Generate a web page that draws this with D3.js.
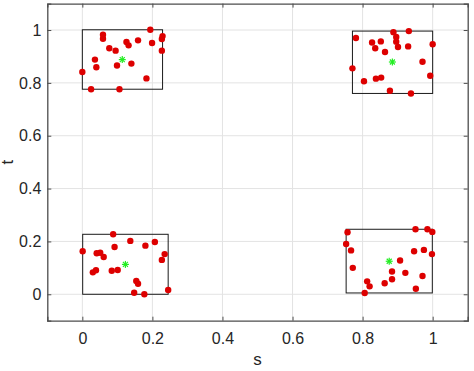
<!DOCTYPE html>
<html>
<head>
<meta charset="utf-8">
<script src="https://cdn.jsdelivr.net/npm/d3@7"></script>
<style>
  body { margin: 0; background: #fff; }
  text { font-family: "Liberation Sans", Arial, sans-serif; fill: #262626; }
</style>
</head>
<body>
<svg id="chart" width="474" height="371"></svg>
<script>
// four clusters of points
const cluster1 = [
  [0.194, 1.001], [0.059, 0.982], [0.059, 0.967], [0.229, 0.977], [0.227, 0.966],
  [0.126, 0.955], [0.132, 0.942], [0.159, 0.961], [0.199, 0.951], [0.077, 0.931],
  [0.095, 0.922], [0.227, 0.922], [0.036, 0.888], [0.040, 0.859], [0.099, 0.866],
  [0.140, 0.873], [0.000, 0.841], [0.183, 0.817], [0.025, 0.776], [0.106, 0.776]
];
const cluster2 = [
  [0.888, 0.992], [0.932, 0.996], [0.781, 0.970], [0.827, 0.953], [0.852, 0.957],
  [0.896, 0.974], [0.896, 0.956], [0.901, 0.936], [0.930, 0.938], [0.836, 0.931],
  [0.864, 0.917], [1.000, 0.946], [0.971, 0.880], [0.771, 0.855], [0.993, 0.827],
  [0.804, 0.806], [0.838, 0.816], [0.853, 0.820], [0.878, 0.770], [0.938, 0.760]
];
const cluster3 = [
  [0.088, 0.227], [0.001, 0.163], [0.137, 0.202], [0.180, 0.184], [0.207, 0.198],
  [0.041, 0.155], [0.051, 0.157], [0.061, 0.141], [0.092, 0.179], [0.235, 0.152],
  [0.227, 0.130], [0.030, 0.083], [0.039, 0.091], [0.084, 0.089], [0.101, 0.092],
  [0.154, 0.050], [0.159, 0.040], [0.148, 0.006], [0.177, 0.000], [0.245, 0.016]
];
const cluster4 = [
  [0.757, 0.235], [0.951, 0.246], [0.985, 0.246], [0.999, 0.236], [0.753, 0.190],
  [0.767, 0.166], [0.947, 0.163], [0.975, 0.168], [0.998, 0.152], [0.907, 0.128],
  [0.772, 0.100], [0.884, 0.086], [0.922, 0.081], [0.971, 0.069], [0.884, 0.057],
  [0.813, 0.049], [0.863, 0.042], [0.820, 0.030], [0.952, 0.021], [0.806, 0.005]
];
const centers = [[0.114, 0.888], [0.885, 0.879], [0.123, 0.113], [0.876, 0.125]];

const xTicks = [0, 0.2, 0.4, 0.6, 0.8, 1];
const yTicks = [0, 0.2, 0.4, 0.6, 0.8, 1];

const svg = d3.select("svg");
const width = parseInt(svg.attr("width"));
const height = parseInt(svg.attr("height"));
const margin = {top: 3.6, right: 6.3, bottom: 50.3, left: 47.3};

const x = d3.scaleLinear().domain([-0.1, 1.1]).range([margin.left, width - margin.right]);
const y = d3.scaleLinear().domain([-0.1, 1.1]).range([height - margin.bottom, margin.top]);

// grid
svg.append("g").selectAll("line.gx")
  .data(xTicks).enter().append("line")
  .attr("x1", d => x(d)).attr("x2", d => x(d))
  .attr("y1", y(1.1)).attr("y2", y(-0.1))
  .attr("stroke", "#e3e3e3").attr("stroke-width", 1);
svg.append("g").selectAll("line.gy")
  .data(yTicks).enter().append("line")
  .attr("y1", d => y(d)).attr("y2", d => y(d))
  .attr("x1", x(-0.1)).attr("x2", x(1.1))
  .attr("stroke", "#e3e3e3").attr("stroke-width", 1);

// axes, ticks inward on all sides
const axisColor = "#4d4d4d";
const axBottom = svg.append("g").attr("transform", `translate(0,${y(-0.1)})`)
  .call(d3.axisBottom(x).tickValues(xTicks).tickSize(-4).tickPadding(12).tickFormat(d3.format("")));
const axTop = svg.append("g").attr("transform", `translate(0,${y(1.1)})`)
  .call(d3.axisTop(x).tickValues(xTicks).tickSize(-4).tickFormat(""));
const axLeft = svg.append("g").attr("transform", `translate(${x(-0.1)},0)`)
  .call(d3.axisLeft(y).tickValues(yTicks).tickSize(-4).tickPadding(6).tickFormat(d3.format("")));
const axRight = svg.append("g").attr("transform", `translate(${x(1.1)},0)`)
  .call(d3.axisRight(y).tickValues(yTicks).tickSize(-4).tickFormat(""));

[axBottom, axTop, axLeft, axRight].forEach(g => {
  g.selectAll("path.domain").attr("stroke", axisColor).attr("stroke-width", 1.3);
  g.selectAll(".tick line").attr("stroke", axisColor);
  g.selectAll(".tick text").style("font-size", "16px").style("font-family", "'Liberation Sans', Arial, sans-serif").attr("fill", "#262626");
});

// axis labels
svg.append("text")
  .attr("x", x(0.5)).attr("y", 365)
  .attr("text-anchor", "middle")
  .style("font-size", "17px")
  .text("s");
svg.append("text")
  .attr("transform", `translate(13,${y(0.5)}) rotate(-90)`)
  .attr("text-anchor", "middle")
  .style("font-size", "17px")
  .text("t");

// clusters: bounding box, points, centre
const clusters = [cluster1, cluster2, cluster3, cluster4];
const plot = svg.append("g");

clusters.forEach(function (pts, i) {
  const ex = d3.extent(pts, d => d[0]);
  const ey = d3.extent(pts, d => d[1]);
  plot.append("rect")
    .attr("x", x(ex[0])).attr("y", y(ey[1]))
    .attr("width", x(ex[1]) - x(ex[0]))
    .attr("height", y(ey[0]) - y(ey[1]))
    .attr("fill", "none")
    .attr("stroke", "#1a1a1a")
    .attr("stroke-width", 1);

  plot.selectAll("circle.c" + i)
    .data(pts).enter()
    .append("circle")
    .attr("class", "c" + i)
    .attr("cx", d => x(d[0]))
    .attr("cy", d => y(d[1]))
    .attr("r", 3.2)
    .attr("fill", "#dd0000");
});

// green asterisks
const star = plot.selectAll("g.star")
  .data(centers).enter()
  .append("g")
  .attr("transform", d => `translate(${x(d[0])},${y(d[1])})`);
[0, 45, 90, 135].forEach(a => {
  star.append("line")
    .attr("x1", -3.5).attr("x2", 3.5)
    .attr("transform", `rotate(${a})`)
    .attr("stroke", "#22ee22")
    .attr("stroke-width", 1.2);
});
</script>
</body>
</html>
